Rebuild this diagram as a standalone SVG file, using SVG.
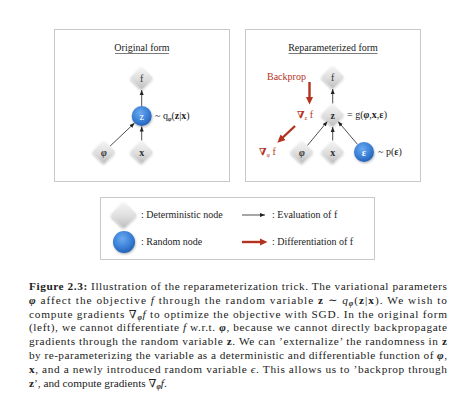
<svg xmlns="http://www.w3.org/2000/svg" xmlns:xlink="http://www.w3.org/1999/xlink" width="474" height="406" viewBox="0 0 474 406">
<style>
text{font-family:"Liberation Serif","DejaVu Serif",serif;fill:#222}
.lbl{font-size:10px}
.red{fill:#b3331f}
.b{font-weight:bold}
.i{font-style:italic}
.cap{font-size:11.3px}
.panel{fill:#fff;stroke:#c9c9c9;stroke-width:1}
.edge{stroke:#222;stroke-width:0.8;fill:none;marker-end:url(#ah)}
.redge{stroke:#b3331f;stroke-width:2.4;fill:none;marker-end:url(#rh)}
.nt{font-size:10px;fill:#333;text-anchor:middle}
.ct{font-size:10px;fill:#fff;text-anchor:middle;font-weight:bold}
</style>
<defs>
<linearGradient id="gd" x1="0" y1="0" x2="1" y2="1">
<stop offset="0" stop-color="#f6f6f6"/>
<stop offset="0.55" stop-color="#dedede"/>
<stop offset="1" stop-color="#bdbdbd"/>
</linearGradient>
<radialGradient id="gb" cx="0.42" cy="0.35" r="0.7">
<stop offset="0" stop-color="#6aaaf0"/>
<stop offset="0.6" stop-color="#3a7fd6"/>
<stop offset="1" stop-color="#1f5cb0"/>
</radialGradient>
<filter id="sh" x="-40%" y="-40%" width="180%" height="180%">
<feDropShadow dx="0.6" dy="1.2" stdDeviation="1" flood-color="#000" flood-opacity="0.3"/>
</filter>
<rect id="dia" x="-8.2" y="-8.2" width="16.4" height="16.4" rx="1.6" transform="rotate(45)" fill="url(#gd)" filter="url(#sh)"/>
<rect id="diaL" x="-9.4" y="-9.4" width="18.8" height="18.8" rx="1.8" transform="rotate(45)" fill="url(#gd)" filter="url(#sh)"/>
<circle id="circ" r="10" fill="url(#gb)" filter="url(#sh)"/>
<circle id="circL" r="11" fill="url(#gb)" filter="url(#sh)"/>
<marker id="ah" markerWidth="6" markerHeight="6" viewBox="0 -3 6 6" refX="5" refY="0" orient="auto" markerUnits="userSpaceOnUse">
<path d="M0,-2 L5,0 L0,2 Z" fill="#222"/>
</marker>
<marker id="rh" markerWidth="10" markerHeight="10" viewBox="0 -5 10 10" refX="0.5" refY="0" orient="auto" markerUnits="userSpaceOnUse">
<path d="M0,-3.8 L8,0 L0,3.8 Z" fill="#b3331f"/>
</marker>
</defs>

<rect width="474" height="406" fill="#fff"/>

<!-- panels and legend frame -->
<rect class="panel" x="54.5" y="29.5" width="175" height="152"/>
<rect class="panel" x="245.5" y="29.5" width="175" height="152"/>
<rect class="panel" x="100.5" y="197.5" width="274" height="62"/>
<text class="lbl" x="142" y="51" text-anchor="middle">Original form</text>
<line x1="115" y1="53.5" x2="169" y2="53.5" stroke="#222" stroke-width="0.6"/>
<text class="lbl" x="333" y="51" text-anchor="middle">Reparameterized form</text>
<line x1="288.5" y1="53.5" x2="377.5" y2="53.5" stroke="#222" stroke-width="0.6"/>

<!-- connectors -->
<g id="connectors">
<line class="edge" x1="141.7" y1="106" x2="141.7" y2="90"/>
<line class="edge" x1="141.7" y1="140.5" x2="141.7" y2="126.5"/>
<line class="edge" x1="110" y1="146.2" x2="134.5" y2="123"/>
<line class="edge" x1="332.7" y1="103.5" x2="332.7" y2="89"/>
<line class="edge" x1="332.7" y1="140.5" x2="332.7" y2="127"/>
<line class="edge" x1="307.3" y1="145.6" x2="327.4" y2="121.4"/>
<line class="edge" x1="357.5" y1="144.4" x2="338" y2="121.4"/>
<line class="redge" x1="309.5" y1="82" x2="309.5" y2="97"/>
<line class="redge" x1="295" y1="126" x2="282.8" y2="137.5"/>
<line class="edge" x1="242" y1="215" x2="265" y2="215"/>
<line class="redge" x1="242" y1="242" x2="260" y2="242"/>
</g>

<!-- left panel nodes -->
<g id="L-f"><use href="#dia" x="141.7" y="78"/><text class="nt" x="141.7" y="81.5">f</text></g>
<g id="L-z"><use href="#circ" x="141.7" y="116"/><text class="ct" x="141.7" y="119.5" style="font-weight:normal">z</text></g>
<g id="L-phi"><use href="#dia" x="104" y="152"/><text class="nt i b" x="104" y="155.5">φ</text></g>
<g id="L-x"><use href="#dia" x="141.7" y="152"/><text class="nt b" x="141.7" y="155.5">x</text></g>
<text class="lbl" x="155" y="119">~ q<tspan font-size="6" dy="2" class="i b">φ</tspan><tspan dy="-2">(</tspan><tspan class="b">z</tspan>|<tspan class="b">x</tspan>)</text>

<!-- right panel nodes -->
<g id="R-f"><use href="#dia" x="332.7" y="77"/><text class="nt" x="332.7" y="80.5">f</text></g>
<g id="R-z"><use href="#dia" x="332.7" y="115"/><text class="nt b" x="332.7" y="118.5">z</text></g>
<g id="R-phi"><use href="#dia" x="302" y="152"/><text class="nt i b" x="302" y="155.5">φ</text></g>
<g id="R-x"><use href="#dia" x="332.7" y="152"/><text class="nt b" x="332.7" y="155.5">x</text></g>
<g id="R-eps"><use href="#circ" x="364" y="152"/><text class="ct" x="364" y="155.5">ε</text></g>
<text class="lbl" x="347" y="118">= g(<tspan class="b i">φ</tspan>,<tspan class="b">x</tspan>,<tspan class="b">ε</tspan>)</text>
<text class="lbl" x="378" y="155">~ p(<tspan class="b">ε</tspan>)</text>
<text class="lbl red" x="267" y="80">Backprop</text>
<text class="lbl red" x="297" y="118"><tspan class="b red">∇</tspan><tspan font-size="6" dy="2" class="red">z</tspan><tspan dy="-2" class="red"> f</tspan></text>
<text class="lbl red" x="259" y="155"><tspan class="b red">∇</tspan><tspan font-size="6" dy="2" class="red">φ</tspan><tspan dy="-2" class="red"> f</tspan></text>

<!-- legend -->
<g id="leg-det"><use href="#diaL" x="124" y="215"/></g>
<g id="leg-rnd"><use href="#circL" x="124" y="242"/></g>
<text class="lbl" x="141" y="218">: Deterministic node</text>
<text class="lbl" x="141" y="245">: Random node</text>
<text class="lbl" x="272" y="218">: Evaluation of f</text>
<text class="lbl" x="272" y="245">: Differentiation of f</text>

<!-- caption -->
<g>
<text class="cap" x="29" y="290" textLength="418" lengthAdjust="spacing"><tspan class="b">Figure 2.3:</tspan> Illustration of the reparameterization trick. The variational parameters</text>
<text class="cap" x="29" y="303.8" textLength="418" lengthAdjust="spacing"><tspan class="b i">φ</tspan> affect the objective <tspan class="i">f</tspan> through the random variable <tspan class="b">z</tspan> ∼ <tspan class="i">q</tspan><tspan class="b i" font-size="7.5" dy="2">φ</tspan><tspan dy="-2">(</tspan><tspan class="b">z</tspan>|<tspan class="b">x</tspan>). We wish to</text>
<text class="cap" x="29" y="317.6" textLength="418" lengthAdjust="spacing">compute gradients ∇<tspan class="b i" font-size="7.5" dy="2">φ</tspan><tspan class="i" dy="-2">f</tspan> to optimize the objective with SGD. In the original form</text>
<text class="cap" x="29" y="331.4" textLength="418" lengthAdjust="spacing">(left), we cannot differentiate <tspan class="i">f</tspan> w.r.t. <tspan class="b i">φ</tspan>, because we cannot directly backpropagate</text>
<text class="cap" x="29" y="345.2" textLength="418" lengthAdjust="spacing">gradients through the random variable <tspan class="b">z</tspan>. We can ’externalize’ the randomness in <tspan class="b">z</tspan></text>
<text class="cap" x="29" y="359" textLength="418" lengthAdjust="spacing">by re-parameterizing the variable as a deterministic and differentiable function of <tspan class="b i">φ</tspan>,</text>
<text class="cap" x="29" y="372.8" textLength="418" lengthAdjust="spacing"><tspan class="b">x</tspan>, and a newly introduced random variable <tspan class="i">ϵ</tspan>. This allows us to ’backprop through</text>
<text class="cap" x="29" y="386.6"><tspan class="b">z</tspan>’, and compute gradients ∇<tspan class="b i" font-size="7.5" dy="2">φ</tspan><tspan class="i" dy="-2">f</tspan>.</text>
</g>
</svg>
